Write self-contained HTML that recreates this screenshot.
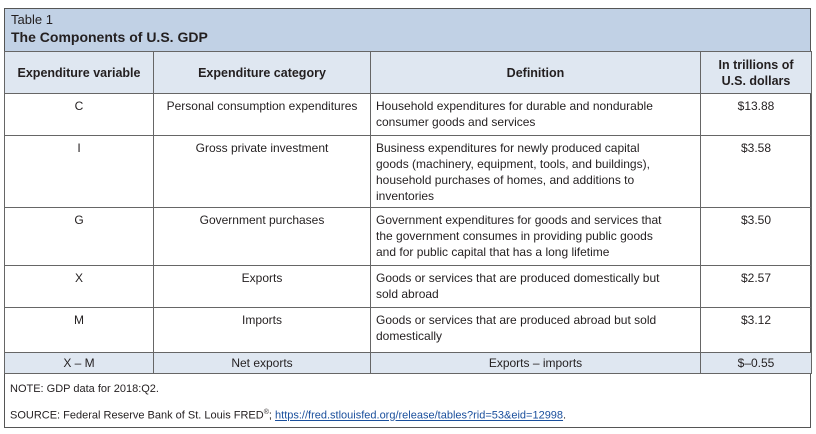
<!DOCTYPE html>
<html><head><meta charset="utf-8"><style>
body{margin:0;background:#fff;width:816px;height:434px;overflow:hidden;font-family:"Liberation Sans",sans-serif;color:#231f20}
#box{position:absolute;left:4px;top:8px;width:807px;height:420px;border:1px solid #555;box-sizing:border-box}
#title{position:absolute;left:0;top:0;width:805px;height:42px;background:#c1d1e5;border-bottom:1px solid #666}
#title .t1{position:absolute;left:6px;top:3px;font-size:13px}
#title .t2{position:absolute;left:6px;top:20px;font-size:14px;font-weight:bold}
table{position:absolute;border-collapse:collapse;font-size:12px;table-layout:fixed;width:807px}
td,th{border:1px solid #666;vertical-align:top;padding:4px 5px 0 5px;line-height:16px;overflow:hidden;white-space:nowrap}
th{background:#dfe7f1;vertical-align:middle;padding:0 5px;font-weight:bold;font-size:12.5px}
.c{text-align:center}
tr.net td{background:#dfe7f1;vertical-align:middle;padding:0 5px}
#note{position:absolute;left:10px;top:378px;font-size:11px;line-height:23px}
a{color:#1a4f9c}
</style></head><body>
<div id="box">
<div id="title">
<div class="t1">Table 1</div>
<div class="t2">The Components of U.S. GDP</div>
</div>
</div>
<table style="left:4px;top:51px">
<colgroup><col style="width:149px"><col style="width:217px"><col style="width:330px"><col style="width:111px"></colgroup>
<tr style="height:42px"><th class="c">Expenditure variable</th><th class="c">Expenditure category</th><th class="c">Definition</th><th class="c">In trillions of<br>U.S. dollars</th></tr>
<tr style="height:42px"><td class="c">C</td><td class="c">Personal consumption expenditures</td><td>Household expenditures for durable and nondurable<br>consumer goods and services</td><td class="c">$13.88</td></tr>
<tr style="height:72px"><td class="c">I</td><td class="c">Gross private investment</td><td>Business expenditures for newly produced capital<br>goods (machinery, equipment, tools, and buildings),<br>household purchases of homes, and additions to<br>inventories</td><td class="c">$3.58</td></tr>
<tr style="height:58px"><td class="c">G</td><td class="c">Government purchases</td><td>Government expenditures for goods and services that<br>the government consumes in providing public goods<br>and for public capital that has a long lifetime</td><td class="c">$3.50</td></tr>
<tr style="height:42px"><td class="c">X</td><td class="c">Exports</td><td>Goods or services that are produced domestically but<br>sold abroad</td><td class="c">$2.57</td></tr>
<tr style="height:45px"><td class="c">M</td><td class="c">Imports</td><td>Goods or services that are produced abroad but sold<br>domestically</td><td class="c">$3.12</td></tr>
<tr class="net" style="height:21px"><td class="c">X – M</td><td class="c">Net exports</td><td class="c">Exports – imports</td><td class="c">$–0.55</td></tr>
</table>
<div id="note">NOTE: GDP data for 2018:Q2.<br>SOURCE: Federal Reserve Bank of St. Louis FRED<sup style="font-size:7px">®</sup>; <a style="text-decoration:underline">https://fred.stlouisfed.org/release/tables?rid=53&amp;eid=12998</a>.</div>
</body></html>
